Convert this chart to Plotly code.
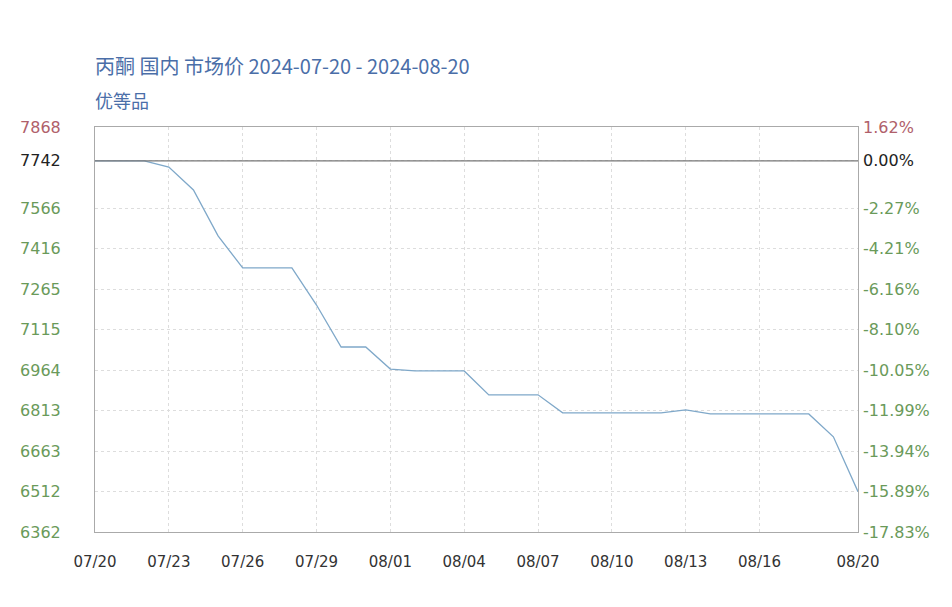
import plotly.graph_objects as go

dates = ["07/20","07/21","07/22","07/23","07/24","07/25","07/26","07/27","07/28","07/29","07/30","07/31",
         "08/01","08/02","08/03","08/04","08/05","08/06","08/07","08/08","08/09","08/10","08/11","08/12",
         "08/13","08/14","08/15","08/16","08/17","08/18","08/19","08/20"]
prices = [7742,7742,7742,7719,7634,7463,7344,7344,7344,7206,7050,7050,
          6968,6961,6961,6961,6872,6872,6872,6805,6805,6805,6805,6805,
          6816,6801,6801,6801,6801,6801,6716,6512]
ytick_vals = [7868,7742,7566,7416,7265,7115,6964,6813,6663,6512,6362]
base = 7742
right_labels = ["1.62%","0.00%","-2.27%","-4.21%","-6.16%","-8.10%","-10.05%","-11.99%","-13.94%","-15.89%","-17.83%"]
xtick_labels = ["07/20","07/23","07/26","07/29","08/01","08/04","08/07","08/10","08/13","08/16","08/20"]

def col(v, red, green):
    if v > base: return red
    if v == base: return "#222222"
    return green

left_text = [f"<span style='color:{col(v,'#b0606a','#6a9a5a')}'>{v}</span>" for v in ytick_vals]
right_text = [f"<span style='color:{col(v,'#b0606a','#6a9a5a')}'>{t}</span>" for v, t in zip(ytick_vals, right_labels)]
xi = list(range(len(dates)))
xtick_pos = [dates.index(d) for d in xtick_labels]

L, R, T, B = 79, 102, 119, 83
fig = go.Figure()
fig.add_trace(go.Scatter(x=xi, y=prices, mode="lines", line=dict(color="#7fa8c9", width=1.3), showlegend=False))
fig.add_trace(go.Scatter(x=[xi[0], xi[-1]], y=[base, base], mode="lines", line=dict(color="#777777", width=1.2),
                         showlegend=False, yaxis="y2"))
grid = dict(showgrid=True, gridcolor="#dddddd", griddash="dot", gridwidth=1)
fig.update_layout(
    width=952, height=607, plot_bgcolor="white", paper_bgcolor="white",
    margin=dict(l=L, r=R, t=T, b=B),
    font=dict(family="DejaVu Sans", size=16),
    xaxis=dict(range=[0, len(dates)-1], tickvals=xtick_pos, ticktext=xtick_labels, showline=True, mirror=True,
               linecolor="#aaaaaa", ticks="", tickfont=dict(color="#333333", size=15), ticklabelstandoff=16, **grid),
    yaxis=dict(range=[6362, 7868], tickvals=ytick_vals, ticktext=left_text, showline=True, mirror=True,
               linecolor="#aaaaaa", ticks="", zeroline=False, ticklabelstandoff=30, **grid),
    yaxis2=dict(range=[6362, 7868], overlaying="y", side="right", tickvals=ytick_vals, ticktext=right_text,
                showgrid=False, ticks="", zeroline=False, ticklabelstandoff=4),
    annotations=[
        dict(text="丙酮 国内 市场价 2024-07-20 - 2024-08-20", x=77, y=607-57, xref="paper", yref="paper",
             showarrow=False, xanchor="left", yanchor="middle", font=dict(size=20, color="#4a6ea8", family="Noto Sans CJK SC")),
        dict(text="优等品", x=77, y=607-92, xref="paper", yref="paper",
             showarrow=False, xanchor="left", yanchor="middle", font=dict(size=18, color="#4a6ea8", family="Noto Sans CJK SC")),
    ],
)
for a in fig.layout.annotations:
    a.x = (a.x - L) / (952 - L - R)
    a.y = (a.y - B) / (607 - T - B)
fig.write_html("out.html")
